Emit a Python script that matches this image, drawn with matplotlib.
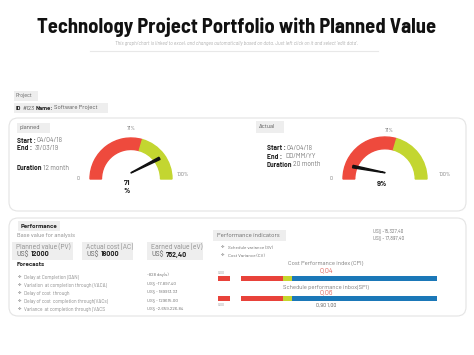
import numpy as np
import matplotlib
matplotlib.use('Agg')
import matplotlib.pyplot as plt
from matplotlib.patches import Wedge, Polygon, Rectangle, FancyBboxPatch

FONT = ['Barlow', 'Roboto', 'DejaVu Sans']
TITLE_FONT = ['Barlow Semi Condensed', 'Barlow', 'DejaVu Sans']
plt.rcParams['font.family'] = FONT

# ---------------- data ----------------
gauge_names = ['planned', 'Actual']
gauge_split = 59            # % of the arc that is red
needle_pct = [85, 6]        # needle position, % of the arc
center_labels = ['71\n%', '9%']
gauge_colors = ['#EE4A3D', '#C3D630']

base_labels = ['Planned value (PV)', 'Actual cost (AC)', 'Earned value (eV)']
base_values = ['12000', '18000', '752,40']

forecast_names = ['Delay at Completion (DAN)',
                  'Variation  at completion through (VACA)',
                  'Delay of cost  through',
                  'Delay of cost  completion through(VACs)',
                  'Variance  at completion through (VACS']
forecast_values = ['-828 day(s)', 'US$ -17,897,40', 'US$ - 189913,33',
                   'US$ - 129615,00', 'US$ -2,659,226,84']

indicator_names = ['Schedule variance (SV)', 'Cost Variance (CV)']
indicator_values = ['US$ -15,327,40', 'US$ - 17,897,40']

index_titles = ['Cost Performance index (CPI)', 'Schedule performance inbox(SPI)']
index_values = ['0,04', '0,06']
marker_width = [0.13, 0.13]
band_starts = [0.25, 0.71, 0.81]
band_ends = [0.71, 0.81, 2.40]
band_colors = ['#E8423A', '#C5D52F', '#1B78B8']

W, H = 474, 355
fig = plt.figure(figsize=(W / 100, H / 100), dpi=100)
ax = fig.add_axes([0, 0, 1, 1])
ax.set_xlim(0, W)
ax.set_ylim(H, 0)
ax.axis('off')


def txt(x, y, s, size=4, color='#555555', weight='normal', ha='left', **kw):
    ax.text(x, y, s, fontsize=size, color=color, fontweight=weight, ha=ha,
            va='center', **kw)


def box(x, y, w, h, fc='#EEEEEE'):
    ax.add_patch(Rectangle((x, y), w, h, facecolor=fc, edgecolor='none'))


# title
fig.text(0.5, 1 - 27 / H, 'Technology Project Portfolio with Planned Value',
         ha='center', va='center', fontsize=14.8, fontweight='bold', color='#111111',
         family=TITLE_FONT)
fig.text(0.5, 1 - 44 / H,
         "This graph/chart is linked to excel, and changes automatically based on data. "
         "Just left click on it and select 'edit data'.",
         ha='center', va='center', fontsize=3.5, style='italic', color='#AAAAAA')
ax.plot([90, 378], [51, 51], color='#E8E8E8', lw=0.8)

# project header
box(14, 91, 24, 10)
txt(16, 96, 'Project', 3.8)
box(14, 103, 94, 10)
txt(16, 108, 'ID', 4.3, '#222222', 'bold')
txt(22.5, 108, '#123', 4.3)
txt(36, 108, 'Name:', 4.3, '#222222', 'bold')
txt(54, 108, 'Software Project', 4.3)

# panels
for y0, h in [(118, 93), (218, 98)]:
    ax.add_patch(FancyBboxPatch((9, y0), 457, h, boxstyle='round,pad=0,rounding_size=9',
                                facecolor='none', edgecolor='#E4E4E4', lw=0.8))

# gauge panel texts
box(17, 123, 33, 10)
txt(20, 128, 'planned', 4.3)
box(256, 121, 28, 12)
txt(259, 127, 'Actual', 4.3)

info = [(17, [141, 148, 168], ['04/04/18', '31/03/19', '12 month']),
        (267, [148, 157, 165], ['04/04/18', 'DD/MM/YY', '20 month'])]
for x0, ys, vals in info:
    txt(x0, ys[0], 'Start :', 4.8, '#222222', 'bold')
    txt(x0 + 20, ys[0], vals[0], 4.8, '#777777')
    txt(x0, ys[1], 'End :', 4.8, '#222222', 'bold')
    txt(x0 + 18, ys[1], vals[1], 4.8, '#777777')
    txt(x0, ys[2], 'Duration', 4.8, '#222222', 'bold')
    txt(x0 + 26, ys[2], vals[2], 4.8, '#777777')

# gauges
centers = [(131, 179, 41), (385, 179, 42)]
for i, (cx, cy, R) in enumerate(centers):
    gax = fig.add_axes([(cx - 1.25 * R) / W, 1 - (cy + 0.3 * R) / H,
                        2.5 * R / W, 1.55 * R / H])
    gax.set_xlim(-1.25, 1.25)
    gax.set_ylim(-0.3, 1.25)
    gax.axis('off')
    split_angle = 180 * (1 - gauge_split / 100)
    gax.add_patch(Wedge((0, 0), 1, split_angle, 180, width=0.28, color=gauge_colors[0]))
    gax.add_patch(Wedge((0, 0), 1, 0, split_angle, width=0.28, color=gauge_colors[1]))
    a = np.deg2rad(180 * (1 - needle_pct[i] / 100))
    px, py = 0.0, 0.15
    tx, ty = px + 0.78 * np.cos(a), py + 0.78 * np.sin(a)
    nx, ny = -np.sin(a), np.cos(a)
    gax.add_patch(Polygon([(px + 0.004 * nx, py + 0.004 * ny), (tx + 0.03 * nx, ty + 0.03 * ny),
                           (tx - 0.03 * nx, ty - 0.03 * ny), (px - 0.004 * nx, py - 0.004 * ny)],
                          closed=True, color='#111111'))

txt(78, 179, '0', 3.8, '#777777', ha='center')
txt(131, 129, '71%', 3.8, '#777777', ha='center')
txt(183, 175, '100%', 3.8, '#777777', ha='center')
txt(127, 187, center_labels[0], 5.5, '#222222', 'bold', ha='center', linespacing=1.5)
txt(331, 179, '0', 3.8, '#777777', ha='center')
txt(389, 130, '71%', 3.8, '#777777', ha='center')
txt(445, 175, '100%', 3.8, '#777777', ha='center')
txt(382, 184, center_labels[1], 5.5, '#222222', 'bold', ha='center')

# performance section
box(18, 221, 42, 10)
txt(21, 226, 'Performance', 4.5, '#222222', 'bold')
txt(17, 235, 'Base value for analysis', 4.3, '#888888')
bx = [12, 82, 147]
bw = [61, 51, 56]
for i in range(3):
    box(bx[i], 242, bw[i], 18)
    txt(bx[i] + 4, 248, base_labels[i], 5, '#888888')
    txt(bx[i] + 4, 254.5, 'US$', 5, '#555555')
    txt(bx[i] + 18.5, 254.5, base_values[i], 5, '#222222', 'bold')

txt(17, 265, 'Forecasts', 4.5, '#222222', 'bold')
fy_names = [278, 286, 294, 302, 310]
fy_vals = [275, 283, 291, 300, 308]
for i in range(5):
    txt(18, fy_names[i], '\u2724', 3, '#999999', family=FONT)
    txt(24, fy_names[i], forecast_names[i], 3.5, '#888888')
    txt(147, fy_vals[i], forecast_values[i], 3.3, '#666666')

box(213, 230, 73, 11)
txt(217, 235.5, 'Performance indicators', 4.4, '#666666')
for i, yy in enumerate([248, 256]):
    txt(221, yy, '\u2724', 3, '#999999', family=FONT)
    txt(228, yy, indicator_names[i], 3.3, '#666666')
    txt(373, [231, 238][i], indicator_values[i], 3.4, '#666666')

txt(326, 264, index_titles[0], 4.3, '#777777', ha='center')
txt(326, 272, index_values[0], 5, '#E0625A', ha='center')
txt(326, 287, index_titles[1], 4.3, '#777777', ha='center')
txt(326, 293, index_values[1], 5, '#E0625A', ha='center')
txt(218, 273.5, '0,00', 2.6, '#888888')
txt(218, 305, '0,00', 2.6, '#888888')
txt(326, 305, '0,90 1,00', 3.8, '#555555', ha='center')

# index bars
bax = fig.add_axes([218 / W, 1 - 309 / H, (437 - 218) / W, (309 - 268) / H])
bax.set_xlim(0, 2.40)
bax.set_ylim(1.5, -0.5)
bax.axis('off')
rows = np.arange(len(index_titles))
bax.barh(rows, marker_width, left=0, height=0.22, color=band_colors[0])
for s, e, c in zip(band_starts, band_ends, band_colors):
    bax.barh(rows, [e - s] * len(rows), left=s, height=0.22, color=c)

fig.savefig('out.png', dpi=100)
